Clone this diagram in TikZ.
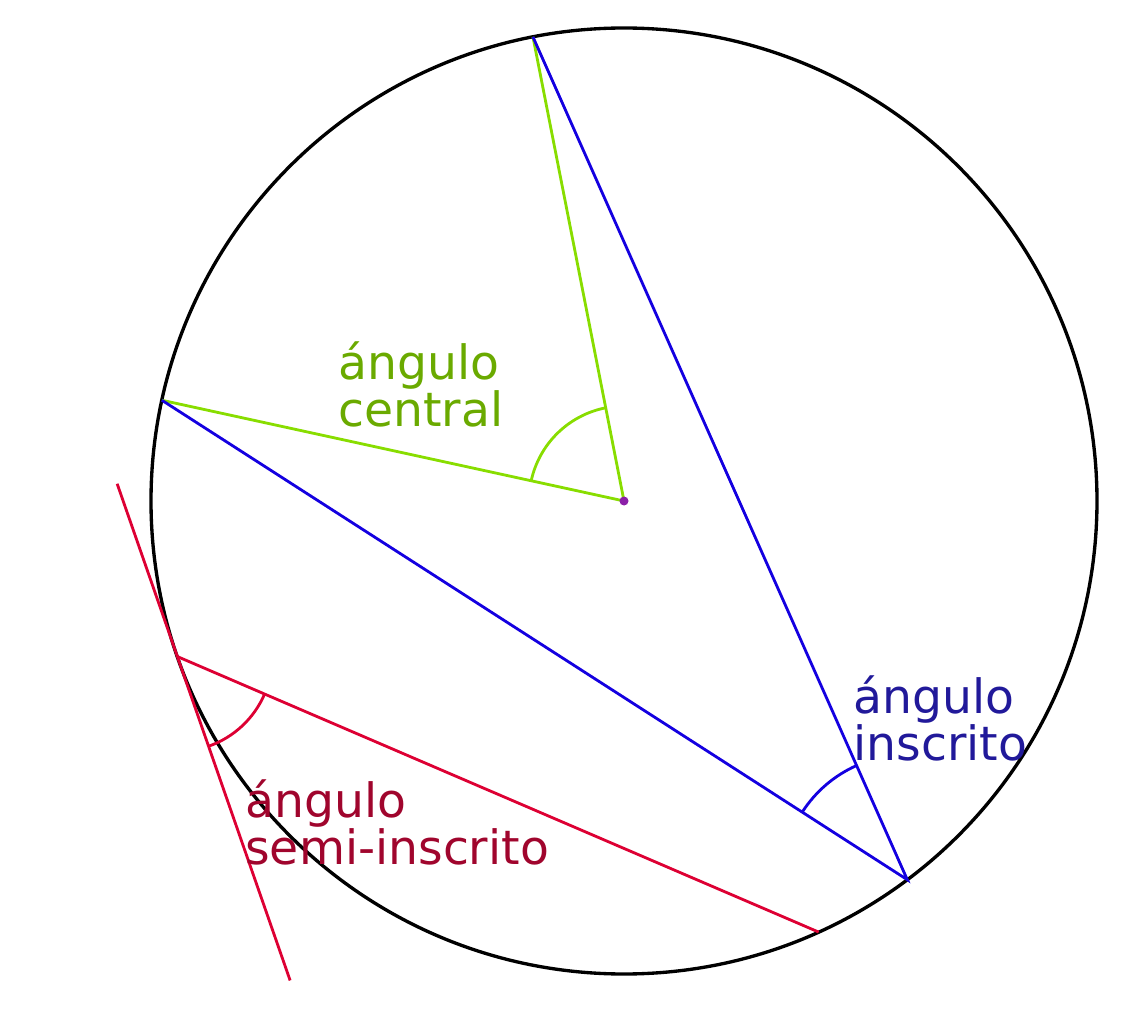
\documentclass[tikz,border=0pt]{standalone}
\usepackage{fontspec}
\setmainfont{DejaVu Sans}
\usetikzlibrary{calc, angles}
\definecolor{centralline}{HTML}{88DD00}
\definecolor{centraltext}{HTML}{6AAA00}
\definecolor{inscline}{HTML}{1400E0}
\definecolor{insctext}{HTML}{21199A}
\definecolor{semiline}{HTML}{DD0033}
\definecolor{semitext}{HTML}{A0052D}
\definecolor{centerdot}{HTML}{8B1FA8}
\tikzset{
  chordline/.style={line width=1.6pt},
  anglelabel/.style={anchor=base west, align=left, inner sep=0pt, font=\fontsize{26.9}{26.2}\selectfont},
}

\begin{document}
\begin{tikzpicture}[x=0.02cm,y=0.02cm]
			\useasboundingbox (0,0) rectangle (1134,-1024);
			% points on the circle
			\coordinate (O) at (624,-501);
			\coordinate (A) at ($(O)+(101.1:473)$);
			\coordinate (B) at ($(O)+(167.7:473)$);
			\coordinate (C) at ($(O)+(-53.2:473)$);
			\coordinate (T) at ($(O)+(199.2:473)$);
			\coordinate (D) at ($(O)+(-65.7:473)$);
			\coordinate (Tup) at ($(T)+(109.2:183)$);
			\coordinate (Tdown) at ($(T)+(289.2:343)$);
			% circle
			\draw[black,line width=1.9pt] (O) circle[radius=473];
			% central angle
			\draw[chordline,centralline] (B) -- (O) -- (A);
			\path pic[draw,chordline,centralline,angle radius=1.9cm] {angle=A--O--B};
			% inscribed angle
			\draw[chordline,inscline] (A) -- (C) -- (B);
			\path pic[draw,chordline,inscline,angle radius=2.5cm] {angle=A--C--B};
			% semi-inscribed angle
			\draw[chordline,semiline] (Tup) -- (Tdown);
			\draw[chordline,semiline] (T) -- (D);
			\path pic[draw,chordline,semiline,angle radius=1.9cm] {angle=Tdown--T--D};
			\fill[centerdot] (O) circle[radius=4.5];
			% labels
			\node[anglelabel,text=centraltext] (lblcentral) at (338,-426) {ángulo\\central};
			\node[anglelabel,text=insctext] (lblinsc) at (853,-760) {ángulo\\inscrito};
			\node[anglelabel,text=semitext] (lblsemi) at (245,-864) {ángulo\\semi-inscrito};
\end{tikzpicture}
\end{document}
